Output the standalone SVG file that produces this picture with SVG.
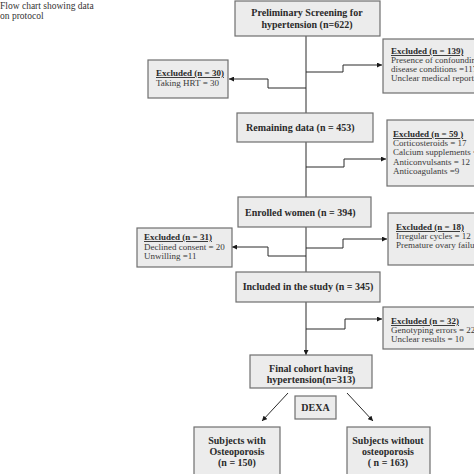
<svg xmlns="http://www.w3.org/2000/svg" width="474" height="474" viewBox="0 0 474 474">
<defs>
<marker id="ah" viewBox="0 0 10 10" refX="10" refY="5" markerWidth="5" markerHeight="5" orient="auto" markerUnits="userSpaceOnUse">
<path d="M0,0 L10,5 L0,10 Z" fill="#1a1a1a"/>
</marker>
<style>
.box{fill:#ececec;stroke:#6f6f6f;stroke-width:1.2}
.t{font-family:"Liberation Serif","Times New Roman",serif;font-weight:bold;font-size:10px;fill:#2a2a2a;text-anchor:middle}
.tl{font-family:"Liberation Serif","Times New Roman",serif;font-weight:bold;font-size:10px;fill:#2a2a2a}
.h{font-family:"Liberation Serif","Times New Roman",serif;font-weight:bold;font-size:9px;fill:#2a2a2a;text-decoration:underline}
.r{font-family:"Liberation Serif","Times New Roman",serif;font-size:9px;fill:#3a3a3a}
.cap{font-family:"Liberation Serif","Times New Roman",serif;font-size:9.5px;fill:#333}
.ln{fill:none;stroke:#2a2a2a;stroke-width:1}
</style>
</defs>
<rect width="474" height="474" fill="#ffffff"/>
<text class="cap" x="0" y="9">Flow chart showing data</text>
<text class="cap" x="0" y="19">on protocol</text>

<g id="connectors">
<path class="ln" d="M306,36 V113"/>
<path class="ln" d="M306,72 H343 V65 H382" marker-end="url(#ah)"/>
<path class="ln" d="M306,88 H268 V79 H229" marker-end="url(#ah)"/>
<path class="ln" d="M306,142 V197"/>
<path class="ln" d="M306,167 H344 V159 H386" marker-end="url(#ah)"/>
<path class="ln" d="M306,227 V272"/>
<path class="ln" d="M306,256 H268 V247 H232" marker-end="url(#ah)"/>
<path class="ln" d="M306,248 H343 V239 H387" marker-end="url(#ah)"/>
<path class="ln" d="M306,302 V355" marker-end="url(#ah)"/>
<path class="ln" d="M306,329 H345 V319 H382" marker-end="url(#ah)"/>
<path class="ln" d="M288,393 L262,421" marker-end="url(#ah)"/>
<path class="ln" d="M347,393 L373,421" marker-end="url(#ah)"/>
</g>

<g id="screening">
<rect class="box" x="235" y="1" width="145" height="35"/>
<text class="t" x="307" y="16">Preliminary Screening for</text>
<text class="t" x="307" y="28">hypertension (n=622)</text>
</g>
<g id="excl139">
<rect class="box" x="383" y="39" width="100" height="54"/>
<text class="h" x="391" y="54">Excluded (n = 139)</text>
<text class="r" x="391" y="63">Presence of confounding</text>
<text class="r" x="391" y="72">disease conditions =117</text>
<text class="r" x="391" y="81">Unclear medical reports</text>
</g>
<g id="excl30">
<rect class="box" x="148" y="60" width="80" height="38"/>
<text class="h" x="156" y="76">Excluded (n = 30)</text>
<text class="r" x="156" y="86">Taking HRT = 30</text>
</g>
<g id="remaining">
<rect class="box" x="237" y="113" width="136" height="29"/>
<text class="tl" x="246" y="131">Remaining data (n = 453)</text>
</g>
<g id="excl59">
<rect class="box" x="387" y="120" width="96" height="66"/>
<text class="h" x="393" y="137">Excluded (n = 59 )</text>
<text class="r" x="393" y="146">Corticosteroids = 17</text>
<text class="r" x="393" y="155">Calcium supplements =</text>
<text class="r" x="393" y="165">Anticonvulsants = 12</text>
<text class="r" x="393" y="174">Anticoagulants =9</text>
</g>
<g id="enrolled">
<rect class="box" x="238" y="197" width="133" height="30"/>
<text class="tl" x="245" y="216">Enrolled women (n = 394)</text>
</g>
<g id="excl31">
<rect class="box" x="137" y="228" width="95" height="39"/>
<text class="h" x="144" y="240">Excluded (n = 31)</text>
<text class="r" x="144" y="250">Declined consent = 20</text>
<text class="r" x="144" y="259">Unwilling =11</text>
</g>
<g id="excl18">
<rect class="box" x="388" y="213" width="95" height="52"/>
<text class="h" x="396" y="230">Excluded (n = 18)</text>
<text class="r" x="396" y="239">Irregular cycles = 12</text>
<text class="r" x="396" y="248">Premature ovary failure</text>
</g>
<g id="included">
<rect class="box" x="236" y="272" width="144" height="30"/>
<text class="t" x="308" y="290">Included in the study (n = 345)</text>
</g>
<g id="excl32">
<rect class="box" x="383" y="307" width="100" height="42"/>
<text class="h" x="391" y="324">Excluded (n = 32)</text>
<text class="r" x="391" y="333">Genotyping errors = 22</text>
<text class="r" x="391" y="342">Unclear results = 10</text>
</g>
<g id="final">
<rect class="box" x="250" y="355" width="122" height="33"/>
<text class="t" x="311" y="372">Final cohort having</text>
<text class="t" x="311" y="383">hypertension(n=313)</text>
</g>
<g id="dexa">
<rect class="box" x="295" y="396" width="41" height="23"/>
<text class="t" x="315.5" y="411">DEXA</text>
</g>
<g id="with">
<rect class="box" x="194" y="427" width="86" height="52"/>
<text class="t" x="237" y="444">Subjects with</text>
<text class="t" x="237" y="455">Osteoporosis</text>
<text class="t" x="237" y="466">(n = 150)</text>
</g>
<g id="without">
<rect class="box" x="347" y="427" width="83" height="52"/>
<text class="t" x="388" y="444">Subjects without</text>
<text class="t" x="388" y="455">osteoporosis</text>
<text class="t" x="388" y="466">( n = 163)</text>
</g>
</svg>
